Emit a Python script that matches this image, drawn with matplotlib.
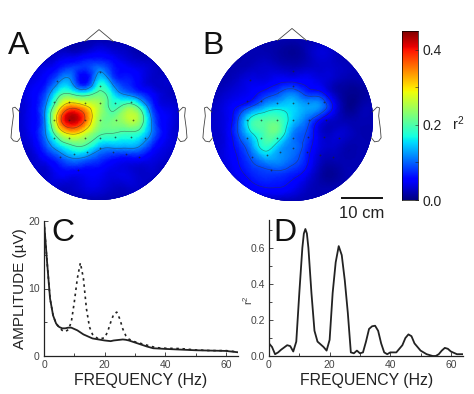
"""Scalp maps of r2 plus amplitude and r2 spectra."""

import matplotlib

matplotlib.use("Agg")
import matplotlib.pyplot as plt
import numpy as np
from matplotlib.patches import Circle
from matplotlib.ticker import MultipleLocator
from matplotlib.tri import Triangulation, UniformTriRefiner

plt.rcParams["font.family"] = ["Liberation Sans", "DejaVu Sans"]
plt.rcParams["mathtext.fontset"] = "custom"
plt.rcParams["mathtext.rm"] = "Liberation Sans"
plt.rcParams["mathtext.it"] = "Liberation Sans"

W, H = 474, 394

# ---- Scalp maps: r2 on a coarse grid, top row first ----------------
GRID_AXIS = [-1.0, -0.833, -0.667, -0.5, -0.333, -0.167, 0.0, 0.167, 0.333, 0.5, 0.667, 0.833, 1.0]
MAP_A = [
    [.02, .02, .02, .02, .02, .02, .02, .02, .02, .02, .02, .02, .02],
    [.02, .02, .02, .03, .03, .04, .05, .04, .03, .02, .02, .02, .02],
    [.02, .03, .04, .06, .08, .08, .10, .07, .05, .04, .03, .02, .02],
    [.03, .04, .06, .11, .11, .05, .15, .10, .07, .05, .03, .03, .02],
    [.03, .05, .09, .18, .19, .17, .21, .16, .11, .08, .05, .03, .02],
    [.03, .05, .12, .27, .35, .31, .25, .19, .22, .19, .08, .04, .03],
    [.03, .05, .13, .34, .43, .36, .24, .22, .25, .24, .11, .05, .03],
    [.03, .05, .12, .25, .31, .27, .21, .20, .19, .18, .11, .05, .03],
    [.03, .04, .09, .15, .19, .19, .14, .13, .13, .12, .07, .04, .03],
    [.02, .03, .05, .08, .11, .10, .08, .06, .05, .05, .04, .03, .02],
    [.02, .03, .03, .05, .05, .05, .05, .04, .04, .03, .03, .02, .02],
    [.02, .02, .03, .03, .03, .04, .04, .03, .03, .03, .02, .02, .02],
    [.02, .02, .02, .02, .02, .02, .02, .02, .02, .02, .02, .02, .02],
]
MAP_B = [
    [.02, .02, .02, .02, .02, .02, .02, .02, .02, .02, .02, .02, .02],
    [.02, .02, .02, .02, .02, .015, .01, .02, .035, .03, .02, .02, .02],
    [.02, .02, .02, .025, .03, .025, .02, .025, .03, .03, .025, .02, .02],
    [.02, .02, .03, .04, .04, .05, .05, .05, .04, .03, .02, .02, .02],
    [.02, .03, .04, .05, .07, .09, .11, .08, .07, .03, .01, .01, .02],
    [.025, .04, .06, .09, .13, .15, .15, .13, .12, .06, .01, .015, .02],
    [.03, .04, .09, .18, .20, .20, .15, .11, .06, .03, .02, .02, .02],
    [.03, .04, .09, .16, .20, .20, .12, .09, .04, .03, .03, .02, .02],
    [.03, .04, .07, .12, .18, .14, .11, .08, .04, .03, .02, .02, .02],
    [.03, .04, .06, .09, .12, .12, .10, .07, .03, .02, .02, .02, .02],
    [.02, .03, .05, .07, .08, .08, .07, .05, .02, .01, .02, .02, .02],
    [.02, .02, .03, .05, .06, .06, .05, .03, .02, .02, .02, .02, .02],
    [.02, .02, .02, .02, .02, .02, .02, .02, .02, .02, .02, .02, .02],
]
LEVELS_A = [0.12, 0.20, 0.30, 0.37]
LEVELS_B = [0.06, 0.09, 0.165]

ELECTRODE_X = [-.52, .01, .01, -.56, -.38, -.18, .01, .20, .40, -.56, -.38, -.18, .01, .21, .42,
               -.56, -.38, -.18, .01, .20, .40, .58, -.49, -.31, -.15, .01, .18, .34, .50, -.26]
ELECTRODE_Y = [.49, .60, .42, .23, .23, .21, .21, .21, .22, 0.0, 0.0, 0.0, 0.0, 0.0, 0.0,
               -.22, -.22, -.22, -.22, -.21, -.21, -.22, -.46, -.43, -.40, -.35, -.40, -.43, -.46, -.62]

EAR_X = [-.99, -1.05, -1.08, -1.07, -1.09, -1.10, -1.07, -1.02, -.98]
EAR_Y = [.10, .16, .15, .05, -.10, -.22, -.26, -.27, -.22]
NOSE_X = [-.18, 0.0, .18]
NOSE_Y = [.98, 1.13, .98]

# ---- Spectra -------------------------------------------------------
FREQ_C = [0, .5, 1, 2, 3, 4, 5, 6, 7, 8, 9, 10, 11, 12, 13, 14, 15, 16, 18, 20, 21, 22, 23, 24, 25,
          26, 27, 28, 30, 32, 34, 36, 38, 40, 45, 50, 55, 60, 64]
AMP_SOLID = [20, 17, 14, 8.5, 6, 4.8, 4.3, 4.1, 4.1, 4.2, 4.2, 4.0, 3.8, 3.5, 3.2, 3.0, 2.8, 2.6, 2.45,
             2.3, 2.25, 2.2, 2.3, 2.35, 2.4, 2.45, 2.4, 2.3, 2.0, 1.7, 1.4, 1.15, 1.1, 1.05, .95, .85,
             .8, .75, .55]
AMP_DOTTED = [20, 17, 14, 8.5, 6, 4.8, 4.2, 3.8, 3.6, 3.9, 5, 8, 11.5, 13.8, 11.5, 7, 4.3, 3.2, 2.5,
              2.7, 3.6, 5, 6.2, 6.5, 5.5, 4, 3, 2.5, 2.1, 1.85, 1.6, 1.35, 1.2, 1.15, 1.1, .9, .8,
              .8, .6]

FREQ_D = [0, 1, 2, 3, 4, 6, 7, 8, 9, 10, 11, 11.5, 12, 12.5, 13, 14, 15, 16, 18, 19, 20, 21, 22, 23, 24,
          25, 26, 27, 28, 29, 30, 31, 32, 33, 34, 35, 36, 37, 38, 39, 40, 42, 44, 45, 46, 47, 48, 50,
          52, 54, 55, 56, 57, 58, 59, 60, 62, 64]
R2_D = [.07, .05, .01, .02, .035, .06, .055, .025, .08, .35, .6, .68, .705, .68, .6, .35, .14, .08, .05, .03,
        .09, .35, .52, .61, .56, .42, .24, .02, .015, .03, .015, .02, .08, .15, .165, .168, .14, .07,
        .02, .01, .02, .02, .06, .1, .12, .11, .07, .03, .01, 0, 0, .01, .03, .045, .04, .025,
        .01, .01]

VMAX = 0.45
GREY = "#444444"
INK = "#222222"


def px_axes(fig, left, top, right, bottom):
    return fig.add_axes([left / W, 1 - bottom / H, (right - left) / W, (bottom - top) / H])


def px_text(fig, x, y, s, **kw):
    kw.setdefault("ha", "center")
    kw.setdefault("va", "center")
    fig.text(x / W, 1 - y / H, s, **kw)


def scalp(fig, cx, cy, r, grid, levels):
    pad = 1.3
    ax = px_axes(fig, cx - pad * r, cy - pad * r, cx + pad * r, cy + pad * r)
    ax.set_xlim(-pad, pad)
    ax.set_ylim(-pad, pad)
    ax.axis("off")
    xx, yy = np.meshgrid(GRID_AXIS, GRID_AXIS[::-1])
    tri = Triangulation(xx.ravel(), yy.ravel())
    tri2, z2 = UniformTriRefiner(tri).refine_field(np.array(grid).ravel(), subdiv=4)
    clip = Circle((0, 0), 1, transform=ax.transData)
    pc = ax.tripcolor(tri2, z2, cmap="jet", vmin=0, vmax=VMAX, shading="gouraud")
    pc.set_clip_path(clip)
    cs = ax.tricontour(tri2, z2, levels=levels, colors="#333333", linewidths=0.45, alpha=0.55)
    cs.set_clip_path(clip)
    ax.scatter(ELECTRODE_X, ELECTRODE_Y, s=1.6, color="#222222", lw=0, zorder=3, alpha=0.7)
    ax.plot(NOSE_X, NOSE_Y, color=GREY, lw=0.6)
    ax.plot(EAR_X, EAR_Y, color=GREY, lw=0.6)
    ax.plot(-np.array(EAR_X), EAR_Y, color=GREY, lw=0.6)


def spectrum_axes(fig, left, top, right, bottom, ymax):
    ax = px_axes(fig, left, top, right, bottom)
    ax.set_xlim(0, 64)
    ax.set_ylim(0, ymax)
    ax.spines[["top", "right"]].set_visible(False)
    ax.spines[["left", "bottom"]].set_linewidth(0.9)
    ax.spines[["left", "bottom"]].set_color(INK)
    ax.xaxis.set_major_locator(MultipleLocator(20))
    ax.xaxis.set_minor_locator(MultipleLocator(10))
    ax.tick_params(which="both", direction="in", labelsize=7.5, labelcolor=GREY, pad=3, length=3, width=0.5)
    ax.tick_params(which="minor", length=2)
    return ax


fig = plt.figure(figsize=(W / 100, H / 100), dpi=100)

scalp(fig, 99, 120, 80, MAP_A, LEVELS_A)
scalp(fig, 292, 120, 81, MAP_B, LEVELS_B)
px_text(fig, 19, 46, "A", fontsize=23, color="#111111")
px_text(fig, 213, 46, "B", fontsize=23, color="#111111")

# colour bar
cax = px_axes(fig, 402, 31, 418, 200)
cax.imshow(np.linspace(VMAX, 0, 256)[:, None], cmap="jet", vmin=0, vmax=VMAX, aspect="auto",
           extent=[0, 1, 0, VMAX])
cax.set_xticks([])
cax.set_yticks([0.0, 0.2, 0.4], ["0.0", "0.2", "0.4"])
cax.yaxis.tick_right()
cax.yaxis.set_minor_locator(MultipleLocator(0.1))
cax.tick_params(which="both", direction="in", labelsize=10, pad=3, length=2, width=0.4, colors=INK)
for s in cax.spines.values():
    s.set_linewidth(0.5)
px_text(fig, 458, 124, "r$^{2}$", fontsize=10.5, color=INK)

# scale bar
fig.add_artist(plt.Line2D([342 / W, 382 / W], [1 - 198 / H, 1 - 198 / H], color="#111111", lw=1.4))
px_text(fig, 362, 214, "10 cm", fontsize=12, color=INK)

# C: amplitude spectra
ax_c = spectrum_axes(fig, 44, 221, 238, 356, 20)
ax_c.plot(FREQ_C, AMP_DOTTED, color=INK, lw=1.2, ls=(0, (1.5, 2.2)))
ax_c.plot(FREQ_C, AMP_SOLID, color=INK, lw=1.3)
ax_c.yaxis.set_major_locator(MultipleLocator(10))
ax_c.yaxis.set_minor_locator(MultipleLocator(5))
px_text(fig, 20, 289, "AMPLITUDE (µV)", fontsize=11, rotation=90, color=INK)
px_text(fig, 141, 380, "FREQUENCY (Hz)", fontsize=11.4, color=INK)
px_text(fig, 63, 233, "C", fontsize=23, color="#111111")

# D: r2 spectrum
ax_d = spectrum_axes(fig, 269, 220, 463, 356, 0.755)
ax_d.plot(FREQ_D, R2_D, color=INK, lw=1.3)
ax_d.yaxis.set_major_locator(MultipleLocator(0.2))
ax_d.yaxis.set_minor_locator(MultipleLocator(0.1))
ax_d.yaxis.set_major_formatter("{x:.1f}")
px_text(fig, 248, 300, "r$^{2}$", fontsize=8, rotation=90, color=GREY)
px_text(fig, 367, 380, "FREQUENCY (Hz)", fontsize=11.4, color=INK)
px_text(fig, 285, 233, "D", fontsize=23, color="#111111")

fig.savefig("out.png", dpi=100)
